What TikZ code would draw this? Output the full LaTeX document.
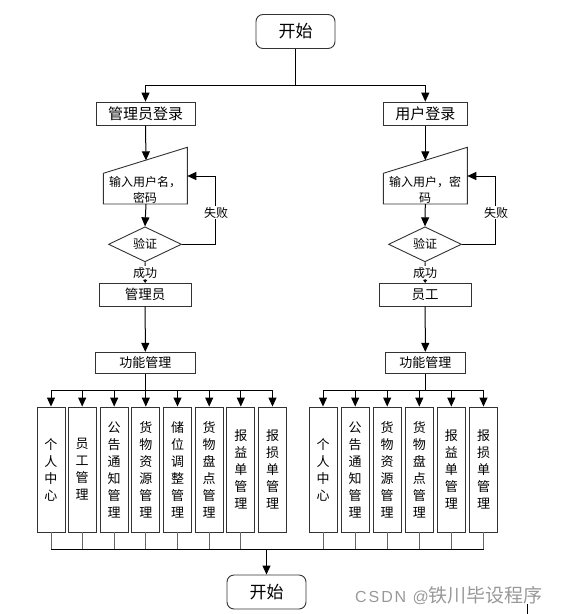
\documentclass[tikz,border=0pt]{standalone}
\usepackage{fontspec}
\setmainfont{Noto Sans CJK SC}
\newfontfamily\wmlatin[LetterSpace=12]{Liberation Sans}
\usetikzlibrary{arrows.meta,shapes.geometric}
\tikzset{
  box/.style={draw=black!80, line width=0.9pt, fill=white, inner sep=0pt, align=center},
  rbox/.style={box, rounded corners=7pt, minimum width=79pt, minimum height=34pt, font=\fontsize{17}{20}\selectfont},
  vbox/.style={box, minimum width=28pt, minimum height=125pt, font=\fontsize{13}{17}\selectfont},
  dia/.style={draw=black!80, line width=0.9pt, fill=white, diamond, inner sep=0pt, minimum width=73pt, minimum height=33pt, font=\fontsize{12}{14}\selectfont},
  ln/.style={line width=1pt, draw=black},
  gln/.style={line width=1pt, draw=black!60},
  arr/.style={ln, -{Triangle[width=8pt,length=9pt]}},
  sarr/.style={ln, -{Triangle[width=4pt,length=3pt]}},
  lbl/.style={fill=white, inner sep=1pt, font=\fontsize{12}{14}\selectfont},
}
\begin{document}
\begin{tikzpicture}[x=1pt,y=-1pt]
\useasboundingbox (0,0) rectangle (562,614);

% start
\node[rbox] (start) at (295.5,31.5) {开始};
\node[box, minimum width=99pt, minimum height=23pt, font=\fontsize{15}{18}\selectfont] (adm) at (145.5,113.6) {管理员登录};
\node[box, minimum width=84pt, minimum height=23pt, font=\fontsize{15}{18}\selectfont] (usr) at (425.3,113.6) {用户登录};
\coordinate (j1) at (295.5,85);
\draw[ln] (start.south) -- (j1);
\draw[arr] (j1) -| (adm.north);
\draw[arr] (j1) -| (usr.north);

% left input trapezoid
\draw[draw=black!80, line width=0.9pt, fill=white] (103.3,173.3) -- (187.3,147.3) -- (187.3,204) -- (103.3,204) -- cycle;
\node[align=center, inner sep=0pt, font=\fontsize{12}{15.4}\selectfont] (in1) at (145,190) {输入用户名，\\密码};
\coordinate (in1top) at (146,160.3);
\coordinate (in1right) at (187.3,176);
\coordinate (in1bot) at (146,204);
\draw[arr] (adm.south) -- (in1top);
\node[dia] (v1) at (145,244.3) {验证};
\draw[arr] (in1bot) -- (v1.north);
\coordinate (f1a) at (215,244.3);
\coordinate (f1b) at (215,176);
\draw[ln] (v1.east) -- (f1a) -- (f1b);
\draw[arr] (f1b) -- (in1right);
\node[lbl] (fail1) at (216,212.7) {失败};
\node[box, minimum width=91.7pt, minimum height=22.7pt, font=\fontsize{13.5}{16}\selectfont] (mgr) at (145.2,294.7) {管理员};
\draw[sarr] (v1.south) -- (mgr.north);
\node[lbl] (ok1) at (145,272.7) {成功};

% right input trapezoid
\draw[draw=black!80, line width=0.9pt, fill=white] (383.3,173.3) -- (467.3,147.3) -- (467.3,204) -- (383.3,204) -- cycle;
\node[align=center, inner sep=0pt, font=\fontsize{12}{15.4}\selectfont] (in2) at (425,190) {输入用户，密\\码};
\coordinate (in2top) at (425.3,160.3);
\coordinate (in2right) at (467.3,176);
\coordinate (in2bot) at (425.3,204);
\draw[arr] (usr.south) -- (in2top);
\node[dia] (v2) at (425,244.3) {验证};
\draw[arr] (in2bot) -- (v2.north);
\coordinate (f2a) at (495,244.3);
\coordinate (f2b) at (495,176);
\draw[ln] (v2.east) -- (f2a) -- (f2b);
\draw[arr] (f2b) -- (in2right);
\node[lbl] (fail2) at (496,212.7) {失败};
\node[box, minimum width=91.7pt, minimum height=22.7pt, font=\fontsize{13.5}{16}\selectfont] (emp) at (425.2,294.7) {员工};
\draw[sarr] (v2.south) -- (emp.north);
\node[lbl] (ok2) at (425,272.7) {成功};

% function management
\node[box, minimum width=99.3pt, minimum height=21pt, font=\fontsize{13}{16}\selectfont] (fa) at (145.3,362.8) {功能管理};
\node[box, minimum width=79.3pt, minimum height=21pt, font=\fontsize{13}{16}\selectfont] (fb) at (425.3,362.8) {功能管理};
\draw[arr] (mgr.south) -- (fa.north);
\draw[arr] (emp.south) -- (fb.north);

% left boxes
\node[vbox] (a1) at (51,469.5) {个\\人\\中\\心};
\node[vbox] (a2) at (82.2,469.5) {员\\工\\管\\理};
\node[vbox] (a3) at (114.2,469.5) {公\\告\\通\\知\\管\\理};
\node[vbox] (a4) at (145.8,469.5) {货\\物\\资\\源\\管\\理};
\node[vbox] (a5) at (177.5,469.5) {储\\位\\调\\整\\管\\理};
\node[vbox] (a6) at (209.2,469.5) {货\\物\\盘\\点\\管\\理};
\node[vbox] (a7) at (240.8,469.5) {报\\益\\单\\管\\理};
\node[vbox] (a8) at (272.5,469.5) {报\\损\\单\\管\\理};

% right boxes
\node[vbox] (b1) at (323,469.5) {个\\人\\中\\心};
\node[vbox] (b2) at (355.2,469.5) {公\\告\\通\\知\\管\\理};
\node[vbox] (b3) at (387.2,469.5) {货\\物\\资\\源\\管\\理};
\node[vbox] (b4) at (419.3,469.5) {货\\物\\盘\\点\\管\\理};
\node[vbox] (b5) at (451.3,469.5) {报\\益\\单\\管\\理};
\node[vbox] (b6) at (483.5,469.5) {报\\损\\单\\管\\理};

\coordinate (ja) at (145.3,390.7);
\coordinate (jb) at (425.3,390.7);
\draw[ln] (fa.south) -- (ja);
\draw[ln] (fb.south) -- (jb);
\foreach \n in {a1,a2,a3,a4,a5,a6,a7,a8} \draw[arr] (ja) -| (\n.north);
\foreach \n in {b1,b2,b3,b4,b5,b6} \draw[arr] (jb) -| (\n.north);

% end
\node[rbox] (end) at (266.5,592) {开始};
\foreach \n in {a1,a2,a3,a4,a5,a6,a7,b1,b2,b3,b4,b5,b6} \draw[gln] (\n.south) -- (\n.south |- 0,549);
\draw[ln] (a1.south |- 0,549) -- (b6.south |- 0,549);
\draw[arr] (end.north |- 0,549) -- (end.north);

% watermark
\node[text=black!40, font=\fontsize{19}{22}\selectfont, anchor=west, inner sep=0pt] (wm) at (355,595.5) {{\wmlatin\fontsize{16}{20}\selectfont CSDN @}铁川毕设程序};
\coordinate (cur1) at (527.5,604);
\coordinate (cur2) at (527.5,614);
\draw[line width=1.2pt] (cur1) -- (cur2);
\end{tikzpicture}
\end{document}
